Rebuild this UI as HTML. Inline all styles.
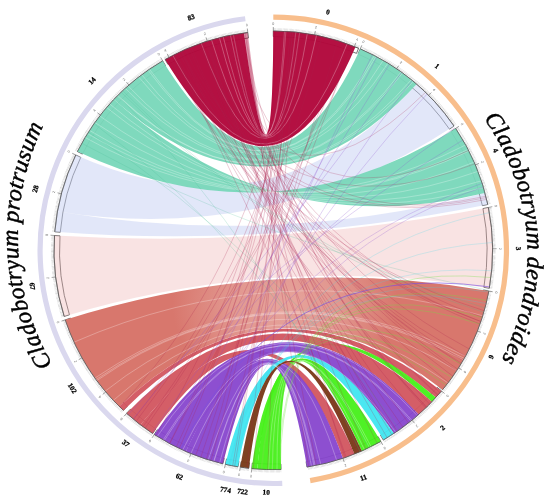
<!DOCTYPE html>
<html><head><meta charset="utf-8"><style>html,body{margin:0;padding:0;background:#fff;}svg{display:block;}</style></head>
<body>
<svg width="550" height="503" viewBox="0 0 550 503">
<rect width="550" height="503" fill="#fff"/>
<path d="M 273.30 17.10 A 233.20 233.20 0 0 1 310.18 480.56" fill="none" stroke="#f8be8c" stroke-width="5.2"/>
<path d="M 282.25 483.33 A 233.20 233.20 0 0 1 245.28 18.79" fill="none" stroke="#dad8ee" stroke-width="5.2"/>
<path d="M 273.30 36.50 A 213.80 213.80 0 0 1 356.49 53.35 L 358.63 48.28 A 219.30 219.30 0 0 0 273.30 31.00 Z" fill="none" stroke="#4a4a4a" stroke-width="0.8"/>
<path d="M 358.04 54.01 A 213.80 213.80 0 0 1 449.46 129.14 L 453.99 126.02 A 219.30 219.30 0 0 0 360.22 48.96 Z" fill="none" stroke="#4a4a4a" stroke-width="0.8"/>
<path d="M 451.07 131.52 A 213.80 213.80 0 0 1 482.38 205.63 L 487.76 204.48 A 219.30 219.30 0 0 0 455.64 128.46 Z" fill="none" stroke="#4a4a4a" stroke-width="0.8"/>
<path d="M 482.98 208.55 A 213.80 213.80 0 0 1 483.87 287.32 L 489.29 288.27 A 219.30 219.30 0 0 0 488.38 207.48 Z" fill="none" stroke="#4a4a4a" stroke-width="0.8"/>
<path d="M 483.38 290.00 A 213.80 213.80 0 0 1 438.39 386.15 L 442.64 389.64 A 219.30 219.30 0 0 0 488.79 291.02 Z" fill="none" stroke="#4a4a4a" stroke-width="0.8"/>
<path d="M 437.32 387.44 A 213.80 213.80 0 0 1 380.52 435.27 L 383.28 440.03 A 219.30 219.30 0 0 0 441.54 390.97 Z" fill="none" stroke="#4a4a4a" stroke-width="0.8"/>
<path d="M 378.13 436.64 A 213.80 213.80 0 0 1 306.08 461.57 L 306.93 467.01 A 219.30 219.30 0 0 0 380.82 441.43 Z" fill="none" stroke="#4a4a4a" stroke-width="0.8"/>
<path d="M 280.87 463.97 A 213.80 213.80 0 0 1 252.29 463.07 L 251.75 468.54 A 219.30 219.30 0 0 0 281.07 469.46 Z" fill="none" stroke="#4a4a4a" stroke-width="0.8"/>
<path d="M 249.51 462.77 A 213.80 213.80 0 0 1 241.11 461.66 L 240.28 467.10 A 219.30 219.30 0 0 0 248.89 468.24 Z" fill="none" stroke="#4a4a4a" stroke-width="0.8"/>
<path d="M 238.90 461.31 A 213.80 213.80 0 0 1 226.55 458.93 L 225.35 464.29 A 219.30 219.30 0 0 0 238.01 466.74 Z" fill="none" stroke="#4a4a4a" stroke-width="0.8"/>
<path d="M 224.19 458.38 A 213.80 213.80 0 0 1 157.23 429.85 L 154.25 434.47 A 219.30 219.30 0 0 0 222.92 463.74 Z" fill="none" stroke="#4a4a4a" stroke-width="0.8"/>
<path d="M 155.76 428.89 A 213.80 213.80 0 0 1 130.30 409.23 L 126.62 413.32 A 219.30 219.30 0 0 0 152.74 433.49 Z" fill="none" stroke="#4a4a4a" stroke-width="0.8"/>
<path d="M 127.19 406.38 A 213.80 213.80 0 0 1 70.54 318.10 L 65.32 319.85 A 219.30 219.30 0 0 0 123.43 410.40 Z" fill="none" stroke="#4a4a4a" stroke-width="0.8"/>
<path d="M 69.45 314.77 A 213.80 213.80 0 0 1 59.99 235.87 L 54.50 235.50 A 219.30 219.30 0 0 0 64.21 316.43 Z" fill="none" stroke="#4a4a4a" stroke-width="0.8"/>
<path d="M 60.27 232.22 A 213.80 213.80 0 0 1 80.75 157.38 L 75.79 154.99 A 219.30 219.30 0 0 0 54.79 231.76 Z" fill="none" stroke="#4a4a4a" stroke-width="0.8"/>
<path d="M 82.38 154.07 A 213.80 213.80 0 0 1 165.50 65.67 L 162.72 60.92 A 219.30 219.30 0 0 0 77.47 151.59 Z" fill="none" stroke="#4a4a4a" stroke-width="0.8"/>
<path d="M 167.86 64.31 A 213.80 213.80 0 0 1 248.43 37.95 L 247.79 32.49 A 219.30 219.30 0 0 0 165.14 59.53 Z" fill="none" stroke="#4a4a4a" stroke-width="0.8"/>
<defs><radialGradient id="g102" gradientUnits="userSpaceOnUse" cx="285" cy="305" r="150" gradientTransform="translate(285 305) scale(1 0.8) translate(-285 -305)"><stop offset="0" stop-color="#e6a49c"/><stop offset="0.35" stop-color="#e29890"/><stop offset="0.75" stop-color="#d8776d"/><stop offset="1" stop-color="#d8776d"/></radialGradient></defs>
<path d="M 54.79 231.76 A 219.30 219.30 0 0 1 57.47 211.47 Q 273.18 247.42 484.98 192.99 A 219.30 219.30 0 0 1 487.76 204.48 Q 273.18 248.37 54.79 231.76 Z" fill="#c6cff4" fill-opacity="0.5"/>
<path d="M 57.47 211.47 A 219.30 219.30 0 0 1 75.79 154.99 Q 271.67 242.46 416.54 84.24 A 219.30 219.30 0 0 1 453.99 126.02 Q 272.25 245.41 57.47 211.47 Z" fill="#c6cff4" fill-opacity="0.5"/>
<path d="M 64.21 316.43 A 219.30 219.30 0 0 1 54.50 235.50 Q 273.19 248.57 488.38 207.48 A 219.30 219.30 0 0 1 489.29 288.27 Q 273.51 253.42 64.21 316.43 Z" fill="#eeb2b2" fill-opacity="0.36"/>
<path d="M 119.32 406.45 A 219.30 219.30 0 0 1 65.32 319.85 Q 273.53 253.61 488.79 291.02 A 219.30 219.30 0 0 1 442.64 389.64 Q 273.76 259.16 119.32 406.45 Z" fill="url(#g102)" fill-opacity="1"/>
<path d="M 123.43 410.40 A 219.30 219.30 0 0 1 119.32 406.45 Q 273.73 259.20 441.54 390.97 A 219.30 219.30 0 0 1 435.76 397.61 Q 273.68 259.52 123.43 410.40 Z" fill="#d2555f" fill-opacity="0.95"/>
<path d="M 77.47 151.59 A 219.30 219.30 0 0 1 113.96 99.62 Q 274.87 244.06 484.98 192.99 A 219.30 219.30 0 0 0 455.64 128.46 Q 272.90 243.68 77.47 151.59 Z" fill="#78d7b9" fill-opacity="0.95"/>
<path d="M 113.96 99.62 A 219.30 219.30 0 0 1 162.72 60.92 Q 272.59 238.58 360.22 48.96 A 219.30 219.30 0 0 1 416.54 84.24 Q 272.82 240.80 113.96 99.62 Z" fill="#78d7b9" fill-opacity="0.95"/>
<path d="M 165.14 59.53 A 219.30 219.30 0 0 1 243.92 32.98 Q 272.42 237.20 273.30 31.00 A 219.30 219.30 0 0 1 355.45 46.97 Q 272.52 238.48 165.14 59.53 Z" fill="#b2083c" fill-opacity="0.97"/>
<path d="M 243.92 32.98 A 219.30 219.30 0 0 1 247.79 32.49 Q 272.53 237.19 273.30 31.00 A 219.30 219.30 0 0 1 275.60 31.01 Q 272.49 237.20 243.92 32.98 Z" fill="#b2083c" fill-opacity="0.35"/>
<path d="M 257.24 469.01 A 219.30 219.30 0 0 1 251.75 468.54 Q 277.53 261.27 435.76 397.61 A 219.30 219.30 0 0 1 431.85 401.81 Q 277.57 261.41 257.24 469.01 Z" fill="#46f019" fill-opacity="0.95"/>
<path d="M 281.07 469.46 A 219.30 219.30 0 0 1 257.24 469.01 Q 276.04 262.60 380.82 441.43 A 219.30 219.30 0 0 1 361.80 450.95 Q 276.19 262.89 281.07 469.46 Z" fill="#46f019" fill-opacity="0.95"/>
<path d="M 140.41 424.75 A 219.30 219.30 0 0 1 126.62 413.32 Q 273.66 259.74 431.85 401.81 A 219.30 219.30 0 0 1 418.61 414.55 Q 273.67 260.46 140.41 424.75 Z" fill="#d2555f" fill-opacity="0.95"/>
<path d="M 152.74 433.49 A 219.30 219.30 0 0 1 140.41 424.75 Q 271.75 261.65 354.39 454.06 A 219.30 219.30 0 0 1 342.88 458.27 Q 271.77 262.03 152.74 433.49 Z" fill="#d2555f" fill-opacity="0.95"/>
<path d="M 185.85 451.41 A 219.30 219.30 0 0 1 154.25 434.47 Q 274.09 260.75 418.61 414.55 A 219.30 219.30 0 0 1 394.02 433.38 Q 274.30 261.83 185.85 451.41 Z" fill="#8746cd" fill-opacity="0.95"/>
<path d="M 222.92 463.74 A 219.30 219.30 0 0 1 185.85 451.41 Q 272.76 262.57 342.88 458.27 A 219.30 219.30 0 0 1 306.93 467.01 Q 272.80 263.20 222.92 463.74 Z" fill="#8746cd" fill-opacity="0.95"/>
<path d="M 238.01 466.74 A 219.30 219.30 0 0 1 225.35 464.29 Q 275.48 262.21 394.02 433.38 A 219.30 219.30 0 0 1 383.61 439.84 Q 275.55 262.48 238.01 466.74 Z" fill="#40e6f0" fill-opacity="0.95"/>
<path d="M 248.89 468.24 A 219.30 219.30 0 0 1 240.28 467.10 Q 274.96 262.82 361.80 450.95 A 219.30 219.30 0 0 1 354.39 454.06 Q 275.00 262.95 248.89 468.24 Z" fill="#7a3c1a" fill-opacity="0.97"/>
<path d="M 211.50 39.89 Q 272.47 237.49 307.31 33.65" fill="none" stroke="#fff" stroke-width="0.5" stroke-opacity="0.55"/>
<path d="M 223.20 36.80 Q 272.47 237.35 295.84 32.16" fill="none" stroke="#fff" stroke-width="0.5" stroke-opacity="0.55"/>
<path d="M 219.42 37.72 Q 272.47 237.39 299.66 32.59" fill="none" stroke="#fff" stroke-width="0.5" stroke-opacity="0.55"/>
<path d="M 172.82 55.37 Q 272.50 238.26 347.14 43.81" fill="none" stroke="#fff" stroke-width="0.5" stroke-opacity="0.55"/>
<path d="M 233.38 34.66 Q 272.44 237.26 284.49 31.29" fill="none" stroke="#fff" stroke-width="0.5" stroke-opacity="0.55"/>
<path d="M 230.45 35.23 Q 272.39 237.28 285.85 31.36" fill="none" stroke="#fff" stroke-width="0.5" stroke-opacity="0.55"/>
<path d="M 201.21 43.19 Q 272.43 237.64 316.53 35.30" fill="none" stroke="#fff" stroke-width="0.5" stroke-opacity="0.55"/>
<path d="M 138.77 77.11 Q 272.70 239.49 387.83 63.28" fill="none" stroke="#fff" stroke-width="0.5" stroke-opacity="0.55"/>
<path d="M 117.92 95.54 Q 272.78 240.54 411.21 79.79" fill="none" stroke="#fff" stroke-width="0.5" stroke-opacity="0.55"/>
<path d="M 128.09 85.96 Q 272.78 240.02 401.04 72.05" fill="none" stroke="#fff" stroke-width="0.5" stroke-opacity="0.55"/>
<path d="M 148.15 70.22 Q 272.62 239.08 375.92 56.49" fill="none" stroke="#fff" stroke-width="0.5" stroke-opacity="0.55"/>
<path d="M 149.51 69.28 Q 272.62 239.03 374.31 55.65" fill="none" stroke="#fff" stroke-width="0.5" stroke-opacity="0.55"/>
<path d="M 141.84 74.77 Q 272.65 239.34 383.10 60.47" fill="none" stroke="#fff" stroke-width="0.5" stroke-opacity="0.55"/>
<path d="M 117.50 95.96 Q 272.82 240.60 413.25 81.46" fill="none" stroke="#fff" stroke-width="0.5" stroke-opacity="0.55"/>
<path d="M 125.36 88.42 Q 272.74 240.13 402.48 73.09" fill="none" stroke="#fff" stroke-width="0.5" stroke-opacity="0.55"/>
<path d="M 109.87 104.07 Q 274.70 244.03 483.44 187.59" fill="none" stroke="#fff" stroke-width="0.5" stroke-opacity="0.55"/>
<path d="M 87.58 133.67 Q 273.57 243.78 468.05 149.47" fill="none" stroke="#fff" stroke-width="0.5" stroke-opacity="0.55"/>
<path d="M 95.04 122.57 Q 273.98 243.82 474.11 162.17" fill="none" stroke="#fff" stroke-width="0.5" stroke-opacity="0.55"/>
<path d="M 85.22 137.53 Q 273.43 243.76 465.64 144.95" fill="none" stroke="#fff" stroke-width="0.5" stroke-opacity="0.55"/>
<path d="M 99.88 116.07 Q 274.24 243.90 477.90 171.36" fill="none" stroke="#fff" stroke-width="0.5" stroke-opacity="0.55"/>
<path d="M 106.75 107.64 Q 274.54 243.94 481.32 180.86" fill="none" stroke="#fff" stroke-width="0.5" stroke-opacity="0.55"/>
<path d="M 89.66 130.43 Q 273.66 243.73 468.90 151.13" fill="none" stroke="#fff" stroke-width="0.5" stroke-opacity="0.55"/>
<path d="M 105.19 391.13 Q 273.76 258.14 456.63 370.65" fill="none" stroke="#fff" stroke-width="0.5" stroke-opacity="0.55"/>
<path d="M 96.87 380.55 Q 273.71 257.49 463.31 359.80" fill="none" stroke="#fff" stroke-width="0.5" stroke-opacity="0.55"/>
<path d="M 113.36 400.34 Q 273.74 258.78 447.95 382.92" fill="none" stroke="#fff" stroke-width="0.5" stroke-opacity="0.55"/>
<path d="M 95.01 377.99 Q 273.71 257.30 465.40 356.08" fill="none" stroke="#fff" stroke-width="0.5" stroke-opacity="0.55"/>
<path d="M 74.14 342.10 Q 273.60 255.02 482.60 315.76" fill="none" stroke="#fff" stroke-width="0.5" stroke-opacity="0.55"/>
<path d="M 96.13 379.54 Q 273.71 257.42 464.15 358.32" fill="none" stroke="#fff" stroke-width="0.5" stroke-opacity="0.55"/>
<path d="M 164.30 440.60 Q 274.19 261.11 411.90 420.25" fill="none" stroke="#fff" stroke-width="0.5" stroke-opacity="0.55"/>
<path d="M 157.30 436.41 Q 274.14 260.84 417.36 415.65" fill="none" stroke="#fff" stroke-width="0.5" stroke-opacity="0.55"/>
<path d="M 163.13 439.92 Q 274.12 261.11 410.93 421.03" fill="none" stroke="#fff" stroke-width="0.5" stroke-opacity="0.55"/>
<path d="M 182.73 450.02 Q 274.26 261.75 395.74 432.23" fill="none" stroke="#fff" stroke-width="0.5" stroke-opacity="0.55"/>
<path d="M 208.30 459.75 Q 272.77 263.01 320.80 464.39" fill="none" stroke="#fff" stroke-width="0.5" stroke-opacity="0.55"/>
<path d="M 219.59 462.92 Q 272.83 263.16 311.50 466.25" fill="none" stroke="#fff" stroke-width="0.5" stroke-opacity="0.55"/>
<path d="M 214.14 461.47 Q 272.75 263.10 314.02 465.79" fill="none" stroke="#fff" stroke-width="0.5" stroke-opacity="0.55"/>
<path d="M 213.65 461.33 Q 272.76 263.09 315.10 465.58" fill="none" stroke="#fff" stroke-width="0.5" stroke-opacity="0.55"/>
<path d="M 190.87 453.52 Q 272.73 262.69 336.68 460.24" fill="none" stroke="#fff" stroke-width="0.5" stroke-opacity="0.55"/>
<path d="M 272.26 469.60 Q 276.15 262.79 369.33 447.46" fill="none" stroke="#fff" stroke-width="0.5" stroke-opacity="0.55"/>
<path d="M 268.65 469.55 Q 276.09 262.77 371.07 446.60" fill="none" stroke="#fff" stroke-width="0.5" stroke-opacity="0.55"/>
<path d="M 277.00 469.57 Q 276.14 262.86 364.42 449.77" fill="none" stroke="#fff" stroke-width="0.5" stroke-opacity="0.55"/>
<path d="M 201.73 43.01 Q 275.21 249.26 408.48 422.98" fill="none" stroke="#a8204a" stroke-width="0.5" stroke-opacity="0.45"/>
<path d="M 240.25 33.50 Q 276.90 248.51 426.37 407.34" fill="none" stroke="#a8204a" stroke-width="0.5" stroke-opacity="0.45"/>
<path d="M 206.16 41.53 Q 275.17 249.34 402.92 427.19" fill="none" stroke="#a8204a" stroke-width="0.5" stroke-opacity="0.45"/>
<path d="M 180.84 51.45 Q 274.86 249.28 417.79 415.27" fill="none" stroke="#a8204a" stroke-width="0.5" stroke-opacity="0.45"/>
<path d="M 216.01 38.61 Q 274.12 250.02 357.80 452.67" fill="none" stroke="#a8204a" stroke-width="0.5" stroke-opacity="0.45"/>
<path d="M 173.98 54.78 Q 275.71 248.21 452.89 376.16" fill="none" stroke="#a8204a" stroke-width="0.5" stroke-opacity="0.45"/>
<path d="M 173.72 54.91 Q 272.73 250.56 353.90 454.25" fill="none" stroke="#a8204a" stroke-width="0.5" stroke-opacity="0.45"/>
<path d="M 221.20 37.28 Q 278.00 245.92 482.14 317.21" fill="none" stroke="#a8204a" stroke-width="0.5" stroke-opacity="0.45"/>
<path d="M 245.09 32.82 Q 273.75 250.23 316.37 465.33" fill="none" stroke="#a8204a" stroke-width="0.5" stroke-opacity="0.45"/>
<path d="M 217.97 38.09 Q 275.35 249.36 397.11 431.31" fill="none" stroke="#a8204a" stroke-width="0.5" stroke-opacity="0.45"/>
<path d="M 178.77 52.42 Q 276.79 246.18 484.12 310.71" fill="none" stroke="#a8204a" stroke-width="0.5" stroke-opacity="0.45"/>
<path d="M 207.81 41.01 Q 277.56 246.16 480.74 321.45" fill="none" stroke="#a8204a" stroke-width="0.5" stroke-opacity="0.45"/>
<path d="M 181.26 51.25 Q 276.18 247.71 461.34 363.14" fill="none" stroke="#a8204a" stroke-width="0.5" stroke-opacity="0.45"/>
<path d="M 169.20 57.28 Q 274.78 249.21 426.68 407.04" fill="none" stroke="#a8204a" stroke-width="0.5" stroke-opacity="0.45"/>
<path d="M 200.79 43.33 Q 273.31 250.30 346.14 457.15" fill="none" stroke="#a8204a" stroke-width="0.5" stroke-opacity="0.45"/>
<path d="M 207.07 41.24 Q 274.87 249.56 391.91 434.76" fill="none" stroke="#a8204a" stroke-width="0.5" stroke-opacity="0.45"/>
<path d="M 205.51 41.74 Q 274.68 249.67 387.16 437.73" fill="none" stroke="#a8204a" stroke-width="0.5" stroke-opacity="0.45"/>
<path d="M 202.12 42.87 Q 276.66 247.69 456.47 370.89" fill="none" stroke="#a8204a" stroke-width="0.5" stroke-opacity="0.45"/>
<path d="M 246.38 32.66 Q 273.55 250.26 308.68 466.73" fill="none" stroke="#a8204a" stroke-width="0.5" stroke-opacity="0.45"/>
<path d="M 233.28 34.68 Q 275.22 249.62 377.22 443.42" fill="none" stroke="#a8204a" stroke-width="0.5" stroke-opacity="0.45"/>
<path d="M 190.92 47.06 Q 276.52 247.51 462.92 360.47" fill="none" stroke="#a8204a" stroke-width="0.5" stroke-opacity="0.45"/>
<path d="M 188.88 47.90 Q 276.96 246.44 479.85 323.99" fill="none" stroke="#a8204a" stroke-width="0.5" stroke-opacity="0.45"/>
<path d="M 227.17 35.91 Q 276.85 248.22 437.73 395.40" fill="none" stroke="#a8204a" stroke-width="0.5" stroke-opacity="0.45"/>
<path d="M 233.81 34.59 Q 277.12 248.10 440.03 392.75" fill="none" stroke="#a8204a" stroke-width="0.5" stroke-opacity="0.45"/>
<path d="M 243.07 33.09 Q 274.54 250.00 344.98 457.56" fill="none" stroke="#a8204a" stroke-width="0.5" stroke-opacity="0.45"/>
<path d="M 167.02 58.47 Q 275.87 247.72 465.40 356.09" fill="none" stroke="#a8204a" stroke-width="0.5" stroke-opacity="0.45"/>
<path d="M 239.09 33.68 Q 276.84 248.54 425.59 408.10" fill="none" stroke="#a8204a" stroke-width="0.5" stroke-opacity="0.45"/>
<path d="M 244.93 32.84 Q 277.40 248.11 438.23 394.84" fill="none" stroke="#a8204a" stroke-width="0.5" stroke-opacity="0.45"/>
<path d="M 172.40 55.59 Q 273.90 249.95 394.20 433.26" fill="none" stroke="#a8204a" stroke-width="0.5" stroke-opacity="0.45"/>
<path d="M 228.18 35.69 Q 277.48 247.43 457.63 369.11" fill="none" stroke="#a8204a" stroke-width="0.5" stroke-opacity="0.45"/>
<path d="M 173.46 55.05 Q 275.56 248.40 448.55 382.13" fill="none" stroke="#a8204a" stroke-width="0.5" stroke-opacity="0.45"/>
<path d="M 243.57 33.02 Q 275.19 249.75 365.87 449.10" fill="none" stroke="#a8204a" stroke-width="0.5" stroke-opacity="0.45"/>
<path d="M 175.78 53.88 Q 276.00 247.82 460.76 364.10" fill="none" stroke="#a8204a" stroke-width="0.5" stroke-opacity="0.45"/>
<path d="M 174.50 54.52 Q 276.56 246.56 480.71 321.53" fill="none" stroke="#a8204a" stroke-width="0.5" stroke-opacity="0.45"/>
<path d="M 229.71 35.38 Q 277.87 246.81 469.17 348.93" fill="none" stroke="#a8204a" stroke-width="0.5" stroke-opacity="0.45"/>
<path d="M 210.30 40.24 Q 276.10 248.61 429.64 404.09" fill="none" stroke="#a8204a" stroke-width="0.5" stroke-opacity="0.45"/>
<path d="M 290.89 31.71 Q 270.30 249.30 155.80 435.46" fill="none" stroke="#a8204a" stroke-width="0.5" stroke-opacity="0.45"/>
<path d="M 285.98 31.37 Q 270.57 249.53 169.49 443.47" fill="none" stroke="#a8204a" stroke-width="0.5" stroke-opacity="0.45"/>
<path d="M 284.80 31.30 Q 271.64 249.99 206.35 459.13" fill="none" stroke="#a8204a" stroke-width="0.5" stroke-opacity="0.45"/>
<path d="M 292.71 31.86 Q 272.66 250.21 232.66 465.80" fill="none" stroke="#a8204a" stroke-width="0.5" stroke-opacity="0.45"/>
<path d="M 353.23 46.08 Q 271.85 249.51 145.14 428.26" fill="none" stroke="#a8204a" stroke-width="0.5" stroke-opacity="0.45"/>
<path d="M 300.17 32.65 Q 269.91 248.84 133.55 419.30" fill="none" stroke="#a8204a" stroke-width="0.5" stroke-opacity="0.45"/>
<path d="M 292.53 31.84 Q 272.00 250.05 210.90 460.54" fill="none" stroke="#a8204a" stroke-width="0.5" stroke-opacity="0.45"/>
<path d="M 344.22 42.79 Q 272.32 249.87 169.78 443.63" fill="none" stroke="#a8204a" stroke-width="0.5" stroke-opacity="0.45"/>
<path d="M 283.47 31.24 Q 268.99 248.42 119.60 406.72" fill="none" stroke="#a8204a" stroke-width="0.5" stroke-opacity="0.45"/>
<path d="M 292.74 31.86 Q 272.72 250.22 234.69 466.18" fill="none" stroke="#a8204a" stroke-width="0.5" stroke-opacity="0.45"/>
<path d="M 337.83 40.71 Q 273.70 250.41 222.25 463.58" fill="none" stroke="#a8204a" stroke-width="0.5" stroke-opacity="0.45"/>
<path d="M 299.54 32.57 Q 273.92 250.35 267.75 469.53" fill="none" stroke="#a8204a" stroke-width="0.5" stroke-opacity="0.45"/>
<path d="M 282.63 31.20 Q 270.76 249.67 179.27 448.42" fill="none" stroke="#a8204a" stroke-width="0.5" stroke-opacity="0.45"/>
<path d="M 295.18 32.09 Q 271.05 249.65 176.27 446.97" fill="none" stroke="#a8204a" stroke-width="0.5" stroke-opacity="0.45"/>
<path d="M 305.68 33.40 Q 272.10 250.00 200.82 457.27" fill="none" stroke="#a8204a" stroke-width="0.5" stroke-opacity="0.45"/>
<path d="M 352.32 45.73 Q 273.34 250.32 195.66 455.40" fill="none" stroke="#a8204a" stroke-width="0.5" stroke-opacity="0.45"/>
<path d="M 322.08 36.50 Q 270.65 249.02 136.10 421.38" fill="none" stroke="#a8204a" stroke-width="0.5" stroke-opacity="0.45"/>
<path d="M 290.24 31.66 Q 273.21 250.29 253.26 468.68" fill="none" stroke="#a8204a" stroke-width="0.5" stroke-opacity="0.45"/>
<path d="M 348.42 44.27 Q 271.65 249.41 143.05 426.73" fill="none" stroke="#a8204a" stroke-width="0.5" stroke-opacity="0.45"/>
<path d="M 295.71 32.15 Q 273.18 250.29 246.88 468.00" fill="none" stroke="#a8204a" stroke-width="0.5" stroke-opacity="0.45"/>
<path d="M 224.97 36.39 Q 278.23 242.26 485.84 196.26" fill="none" stroke="#a8204a" stroke-width="0.5" stroke-opacity="0.45"/>
<path d="M 181.75 51.02 Q 276.94 242.74 486.18 197.64" fill="none" stroke="#a8204a" stroke-width="0.5" stroke-opacity="0.45"/>
<path d="M 236.76 34.07 Q 278.06 240.82 468.58 150.52" fill="none" stroke="#a8204a" stroke-width="0.5" stroke-opacity="0.45"/>
<path d="M 199.27 43.87 Q 275.64 239.37 425.49 92.41" fill="none" stroke="#a8204a" stroke-width="0.5" stroke-opacity="0.45"/>
<path d="M 169.84 56.94 Q 276.60 242.97 486.61 199.41" fill="none" stroke="#a8204a" stroke-width="0.5" stroke-opacity="0.45"/>
<path d="M 184.96 49.58 Q 276.70 241.68 474.83 163.82" fill="none" stroke="#a8204a" stroke-width="0.5" stroke-opacity="0.45"/>
<path d="M 94.15 123.82 Q 270.80 252.43 368.97 447.63" fill="none" stroke="#40b890" stroke-width="0.5" stroke-opacity="0.4"/>
<path d="M 121.20 92.32 Q 275.05 247.42 483.67 312.25" fill="none" stroke="#40b890" stroke-width="0.5" stroke-opacity="0.4"/>
<path d="M 88.58 132.10 Q 271.55 252.13 399.61 429.57" fill="none" stroke="#40b890" stroke-width="0.5" stroke-opacity="0.4"/>
<path d="M 81.87 143.31 Q 274.02 248.30 488.89 290.47" fill="none" stroke="#40b890" stroke-width="0.5" stroke-opacity="0.4"/>
<path d="M 117.96 95.50 Q 271.24 251.70 359.99 451.74" fill="none" stroke="#40b890" stroke-width="0.5" stroke-opacity="0.4"/>
<path d="M 122.78 90.81 Q 275.13 247.24 484.91 307.87" fill="none" stroke="#40b890" stroke-width="0.5" stroke-opacity="0.4"/>
<path d="M 133.02 418.86 Q 272.94 250.02 401.61 72.46" fill="none" stroke="#8a4fd0" stroke-width="0.5" stroke-opacity="0.5"/>
<path d="M 214.89 461.68 Q 275.71 251.55 412.10 80.52" fill="none" stroke="#8a4fd0" stroke-width="0.5" stroke-opacity="0.5"/>
<path d="M 173.62 445.64 Q 273.42 250.36 376.94 57.04" fill="none" stroke="#8a4fd0" stroke-width="0.5" stroke-opacity="0.5"/>
<path d="M 199.16 456.69 Q 275.69 251.80 427.13 94.01" fill="none" stroke="#8a4fd0" stroke-width="0.5" stroke-opacity="0.5"/>
<path d="M 162.17 439.36 Q 273.45 250.39 389.43 64.27" fill="none" stroke="#8a4fd0" stroke-width="0.5" stroke-opacity="0.5"/>
<path d="M 181.39 449.41 Q 276.81 254.26 482.13 183.33" fill="none" stroke="#8a4fd0" stroke-width="0.5" stroke-opacity="0.5"/>
<path d="M 128.06 414.61 Q 274.63 251.92 462.87 140.05" fill="none" stroke="#8a4fd0" stroke-width="0.5" stroke-opacity="0.5"/>
<path d="M 151.74 432.83 Q 275.11 252.09 455.06 127.59" fill="none" stroke="#8a4fd0" stroke-width="0.5" stroke-opacity="0.5"/>
<path d="M 202.67 457.91 Q 274.15 250.66 372.38 54.66" fill="none" stroke="#8a4fd0" stroke-width="0.5" stroke-opacity="0.5"/>
<path d="M 214.76 461.64 Q 277.84 254.74 483.29 187.07" fill="none" stroke="#8a4fd0" stroke-width="0.5" stroke-opacity="0.5"/>
<path d="M 262.18 469.32 Q 278.32 260.69 451.91 377.55" fill="none" stroke="#70e040" stroke-width="0.6" stroke-opacity="0.55"/>
<path d="M 280.38 469.49 Q 279.92 258.38 486.75 300.60" fill="none" stroke="#70e040" stroke-width="0.6" stroke-opacity="0.55"/>
<path d="M 268.04 469.54 Q 279.34 259.09 479.80 324.13" fill="none" stroke="#70e040" stroke-width="0.6" stroke-opacity="0.55"/>
<path d="M 272.41 469.60 Q 278.46 260.93 446.21 385.18" fill="none" stroke="#70e040" stroke-width="0.6" stroke-opacity="0.55"/>
<path d="M 278.94 469.53 Q 280.00 257.69 490.90 277.54" fill="none" stroke="#70e040" stroke-width="0.6" stroke-opacity="0.55"/>
<path d="M 261.21 469.27 Q 278.56 260.28 460.85 363.95" fill="none" stroke="#70e040" stroke-width="0.6" stroke-opacity="0.55"/>
<path d="M 261.21 469.27 Q 279.20 258.89 482.04 317.52" fill="none" stroke="#70e040" stroke-width="0.6" stroke-opacity="0.55"/>
<path d="M 230.03 465.29 Q 278.38 258.35 486.04 303.54" fill="none" stroke="#40d8e8" stroke-width="0.5" stroke-opacity="0.45"/>
<path d="M 235.01 466.23 Q 278.73 256.54 492.46 242.49" fill="none" stroke="#40d8e8" stroke-width="0.5" stroke-opacity="0.45"/>
<path d="M 228.82 465.04 Q 278.42 257.99 488.59 292.06" fill="none" stroke="#40d8e8" stroke-width="0.5" stroke-opacity="0.45"/>
<path d="M 234.27 466.10 Q 278.68 257.39 491.65 270.70" fill="none" stroke="#40d8e8" stroke-width="0.5" stroke-opacity="0.45"/>
<path d="M 229.24 465.13 Q 278.46 255.61 489.33 212.58" fill="none" stroke="#40d8e8" stroke-width="0.5" stroke-opacity="0.45"/>
<path d="M 489.53 286.87 Q 277.01 257.36 180.62 449.05" fill="none" stroke="#7a50e0" stroke-width="0.8" stroke-opacity="0.8"/>
<path d="M 273.30 31.00 A 219.30 219.30 0 0 1 358.63 48.28" fill="none" stroke="#555" stroke-width="0.6"/>
<path d="M 273.30 29.40 A 220.90 220.90 0 0 1 359.26 46.81" fill="none" stroke="#888" stroke-width="2.6" stroke-dasharray="0.35 0.85" stroke-opacity="0.55"/>
<path d="M 360.22 48.96 A 219.30 219.30 0 0 1 453.99 126.02" fill="none" stroke="#555" stroke-width="0.6"/>
<path d="M 360.85 47.49 A 220.90 220.90 0 0 1 455.31 125.12" fill="none" stroke="#888" stroke-width="2.6" stroke-dasharray="0.35 0.85" stroke-opacity="0.55"/>
<path d="M 455.64 128.46 A 219.30 219.30 0 0 1 487.76 204.48" fill="none" stroke="#555" stroke-width="0.6"/>
<path d="M 456.97 127.57 A 220.90 220.90 0 0 1 489.32 204.15" fill="none" stroke="#888" stroke-width="2.6" stroke-dasharray="0.35 0.85" stroke-opacity="0.55"/>
<path d="M 488.38 207.48 A 219.30 219.30 0 0 1 489.29 288.27" fill="none" stroke="#555" stroke-width="0.6"/>
<path d="M 489.95 207.17 A 220.90 220.90 0 0 1 490.86 288.54" fill="none" stroke="#888" stroke-width="2.6" stroke-dasharray="0.35 0.85" stroke-opacity="0.55"/>
<path d="M 488.79 291.02 A 219.30 219.30 0 0 1 442.64 389.64" fill="none" stroke="#555" stroke-width="0.6"/>
<path d="M 490.36 291.31 A 220.90 220.90 0 0 1 443.87 390.66" fill="none" stroke="#888" stroke-width="2.6" stroke-dasharray="0.35 0.85" stroke-opacity="0.55"/>
<path d="M 441.54 390.97 A 219.30 219.30 0 0 1 383.28 440.03" fill="none" stroke="#555" stroke-width="0.6"/>
<path d="M 442.77 392.00 A 220.90 220.90 0 0 1 384.08 441.41" fill="none" stroke="#888" stroke-width="2.6" stroke-dasharray="0.35 0.85" stroke-opacity="0.55"/>
<path d="M 380.82 441.43 A 219.30 219.30 0 0 1 306.93 467.01" fill="none" stroke="#555" stroke-width="0.6"/>
<path d="M 381.61 442.83 A 220.90 220.90 0 0 1 307.17 468.59" fill="none" stroke="#888" stroke-width="2.6" stroke-dasharray="0.35 0.85" stroke-opacity="0.55"/>
<path d="M 281.07 469.46 A 219.30 219.30 0 0 1 251.75 468.54" fill="none" stroke="#555" stroke-width="0.6"/>
<path d="M 281.12 471.06 A 220.90 220.90 0 0 1 251.59 470.13" fill="none" stroke="#888" stroke-width="2.6" stroke-dasharray="0.35 0.85" stroke-opacity="0.55"/>
<path d="M 248.89 468.24 A 219.30 219.30 0 0 1 240.28 467.10" fill="none" stroke="#555" stroke-width="0.6"/>
<path d="M 248.71 469.83 A 220.90 220.90 0 0 1 240.04 468.68" fill="none" stroke="#888" stroke-width="2.6" stroke-dasharray="0.35 0.85" stroke-opacity="0.55"/>
<path d="M 238.01 466.74 A 219.30 219.30 0 0 1 225.35 464.29" fill="none" stroke="#555" stroke-width="0.6"/>
<path d="M 237.75 468.32 A 220.90 220.90 0 0 1 225.00 465.85" fill="none" stroke="#888" stroke-width="2.6" stroke-dasharray="0.35 0.85" stroke-opacity="0.55"/>
<path d="M 222.92 463.74 A 219.30 219.30 0 0 1 154.25 434.47" fill="none" stroke="#555" stroke-width="0.6"/>
<path d="M 222.56 465.29 A 220.90 220.90 0 0 1 153.38 435.81" fill="none" stroke="#888" stroke-width="2.6" stroke-dasharray="0.35 0.85" stroke-opacity="0.55"/>
<path d="M 152.74 433.49 A 219.30 219.30 0 0 1 126.62 413.32" fill="none" stroke="#555" stroke-width="0.6"/>
<path d="M 151.86 434.82 A 220.90 220.90 0 0 1 125.55 414.51" fill="none" stroke="#888" stroke-width="2.6" stroke-dasharray="0.35 0.85" stroke-opacity="0.55"/>
<path d="M 123.43 410.40 A 219.30 219.30 0 0 1 65.32 319.85" fill="none" stroke="#555" stroke-width="0.6"/>
<path d="M 122.34 411.57 A 220.90 220.90 0 0 1 63.80 320.36" fill="none" stroke="#888" stroke-width="2.6" stroke-dasharray="0.35 0.85" stroke-opacity="0.55"/>
<path d="M 64.21 316.43 A 219.30 219.30 0 0 1 54.50 235.50" fill="none" stroke="#555" stroke-width="0.6"/>
<path d="M 62.68 316.91 A 220.90 220.90 0 0 1 52.90 235.39" fill="none" stroke="#888" stroke-width="2.6" stroke-dasharray="0.35 0.85" stroke-opacity="0.55"/>
<path d="M 54.79 231.76 A 219.30 219.30 0 0 1 75.79 154.99" fill="none" stroke="#555" stroke-width="0.6"/>
<path d="M 53.19 231.62 A 220.90 220.90 0 0 1 74.35 154.30" fill="none" stroke="#888" stroke-width="2.6" stroke-dasharray="0.35 0.85" stroke-opacity="0.55"/>
<path d="M 77.47 151.59 A 219.30 219.30 0 0 1 162.72 60.92" fill="none" stroke="#555" stroke-width="0.6"/>
<path d="M 76.04 150.87 A 220.90 220.90 0 0 1 161.92 59.54" fill="none" stroke="#888" stroke-width="2.6" stroke-dasharray="0.35 0.85" stroke-opacity="0.55"/>
<path d="M 165.14 59.53 A 219.30 219.30 0 0 1 247.79 32.49" fill="none" stroke="#555" stroke-width="0.6"/>
<path d="M 164.36 58.13 A 220.90 220.90 0 0 1 247.60 30.90" fill="none" stroke="#888" stroke-width="2.6" stroke-dasharray="0.35 0.85" stroke-opacity="0.55"/>
<line x1="273.30" y1="31.00" x2="273.30" y2="27.00" stroke="#666" stroke-width="0.6"/>
<text x="273.30" y="24.50" transform="rotate(0.00 273.30 24.50)" text-anchor="middle" font-family="Liberation Sans, sans-serif" font-size="3.6" fill="#666">0</text>
<line x1="314.58" y1="34.92" x2="315.33" y2="30.99" stroke="#666" stroke-width="0.6"/>
<text x="315.80" y="28.54" transform="rotate(10.85 315.80 28.54)" text-anchor="middle" font-family="Liberation Sans, sans-serif" font-size="3.6" fill="#666">2</text>
<line x1="354.39" y1="46.54" x2="355.86" y2="42.82" stroke="#666" stroke-width="0.6"/>
<text x="356.79" y="40.50" transform="rotate(21.70 356.79 40.50)" text-anchor="middle" font-family="Liberation Sans, sans-serif" font-size="3.6" fill="#666">4</text>
<line x1="360.22" y1="48.96" x2="361.80" y2="45.29" stroke="#666" stroke-width="0.6"/>
<text x="362.80" y="42.99" transform="rotate(23.35 362.80 42.99)" text-anchor="middle" font-family="Liberation Sans, sans-serif" font-size="3.6" fill="#666">0</text>
<line x1="396.56" y1="68.92" x2="398.81" y2="65.61" stroke="#666" stroke-width="0.6"/>
<text x="400.22" y="63.55" transform="rotate(34.20 400.22 63.55)" text-anchor="middle" font-family="Liberation Sans, sans-serif" font-size="3.6" fill="#666">2</text>
<line x1="428.50" y1="95.37" x2="431.33" y2="92.54" stroke="#666" stroke-width="0.6"/>
<text x="433.10" y="90.77" transform="rotate(45.05 433.10 90.77)" text-anchor="middle" font-family="Liberation Sans, sans-serif" font-size="3.6" fill="#666">4</text>
<line x1="455.64" y1="128.46" x2="458.97" y2="126.24" stroke="#666" stroke-width="0.6"/>
<text x="461.05" y="124.85" transform="rotate(56.25 461.05 124.85)" text-anchor="middle" font-family="Liberation Sans, sans-serif" font-size="3.6" fill="#666">0</text>
<line x1="475.32" y1="164.97" x2="479.00" y2="163.41" stroke="#666" stroke-width="0.6"/>
<text x="481.30" y="162.44" transform="rotate(67.10 481.30 162.44)" text-anchor="middle" font-family="Liberation Sans, sans-serif" font-size="3.6" fill="#666">2</text>
<line x1="488.38" y1="207.48" x2="492.30" y2="206.70" stroke="#666" stroke-width="0.6"/>
<text x="494.75" y="206.21" transform="rotate(78.74 494.75 206.21)" text-anchor="middle" font-family="Liberation Sans, sans-serif" font-size="3.6" fill="#666">0</text>
<line x1="492.59" y1="248.73" x2="496.59" y2="248.70" stroke="#666" stroke-width="0.6"/>
<text x="499.09" y="248.68" transform="rotate(89.59 499.09 248.68)" text-anchor="middle" font-family="Liberation Sans, sans-serif" font-size="3.6" fill="#666">2</text>
<line x1="488.79" y1="291.02" x2="492.72" y2="291.76" stroke="#666" stroke-width="0.6"/>
<text x="495.17" y="292.22" transform="rotate(100.70 495.17 292.22)" text-anchor="middle" font-family="Liberation Sans, sans-serif" font-size="3.6" fill="#666">0</text>
<line x1="477.27" y1="330.85" x2="480.99" y2="332.32" stroke="#666" stroke-width="0.6"/>
<text x="483.32" y="333.24" transform="rotate(111.55 483.32 333.24)" text-anchor="middle" font-family="Liberation Sans, sans-serif" font-size="3.6" fill="#666">2</text>
<line x1="458.46" y1="367.81" x2="461.84" y2="369.95" stroke="#666" stroke-width="0.6"/>
<text x="463.95" y="371.29" transform="rotate(122.40 463.95 371.29)" text-anchor="middle" font-family="Liberation Sans, sans-serif" font-size="3.6" fill="#666">4</text>
<line x1="441.54" y1="390.97" x2="444.61" y2="393.54" stroke="#666" stroke-width="0.6"/>
<text x="446.53" y="395.14" transform="rotate(129.90 446.53 395.14)" text-anchor="middle" font-family="Liberation Sans, sans-serif" font-size="3.6" fill="#666">0</text>
<line x1="412.05" y1="420.12" x2="414.58" y2="423.22" stroke="#666" stroke-width="0.6"/>
<text x="416.16" y="425.16" transform="rotate(140.75 416.16 425.16)" text-anchor="middle" font-family="Liberation Sans, sans-serif" font-size="3.6" fill="#666">2</text>
<line x1="380.82" y1="441.43" x2="382.78" y2="444.92" stroke="#666" stroke-width="0.6"/>
<text x="384.01" y="447.10" transform="rotate(150.64 384.01 447.10)" text-anchor="middle" font-family="Liberation Sans, sans-serif" font-size="3.6" fill="#666">0</text>
<line x1="342.92" y1="458.26" x2="344.19" y2="462.05" stroke="#666" stroke-width="0.6"/>
<text x="344.98" y="464.42" transform="rotate(161.49 344.98 464.42)" text-anchor="middle" font-family="Liberation Sans, sans-serif" font-size="3.6" fill="#666">2</text>
<line x1="251.75" y1="468.54" x2="251.35" y2="472.52" stroke="#666" stroke-width="0.6"/>
<text x="251.11" y="475.01" transform="rotate(185.64 251.11 475.01)" text-anchor="middle" font-family="Liberation Sans, sans-serif" font-size="3.6" fill="#666">0</text>
<line x1="240.28" y1="467.10" x2="239.68" y2="471.05" stroke="#666" stroke-width="0.6"/>
<text x="239.30" y="473.53" transform="rotate(188.66 239.30 473.53)" text-anchor="middle" font-family="Liberation Sans, sans-serif" font-size="3.6" fill="#666">0</text>
<line x1="225.35" y1="464.29" x2="224.47" y2="468.20" stroke="#666" stroke-width="0.6"/>
<text x="223.93" y="470.64" transform="rotate(192.63 223.93 470.64)" text-anchor="middle" font-family="Liberation Sans, sans-serif" font-size="3.6" fill="#666">0</text>
<line x1="154.25" y1="434.47" x2="152.07" y2="437.83" stroke="#666" stroke-width="0.6"/>
<text x="150.72" y="439.93" transform="rotate(212.88 150.72 439.93)" text-anchor="middle" font-family="Liberation Sans, sans-serif" font-size="3.6" fill="#666">0</text>
<line x1="191.04" y1="453.59" x2="189.54" y2="457.30" stroke="#666" stroke-width="0.6"/>
<text x="188.60" y="459.61" transform="rotate(202.03 188.60 459.61)" text-anchor="middle" font-family="Liberation Sans, sans-serif" font-size="3.6" fill="#666">2</text>
<line x1="126.62" y1="413.32" x2="123.94" y2="416.30" stroke="#666" stroke-width="0.6"/>
<text x="122.27" y="418.15" transform="rotate(221.98 122.27 418.15)" text-anchor="middle" font-family="Liberation Sans, sans-serif" font-size="3.6" fill="#666">0</text>
<line x1="65.32" y1="319.85" x2="61.53" y2="321.12" stroke="#666" stroke-width="0.6"/>
<text x="59.16" y="321.91" transform="rotate(251.51 59.16 321.91)" text-anchor="middle" font-family="Liberation Sans, sans-serif" font-size="3.6" fill="#666">0</text>
<line x1="82.13" y1="357.76" x2="78.64" y2="359.72" stroke="#666" stroke-width="0.6"/>
<text x="76.46" y="360.94" transform="rotate(240.66 76.46 360.94)" text-anchor="middle" font-family="Liberation Sans, sans-serif" font-size="3.6" fill="#666">2</text>
<line x1="105.77" y1="391.82" x2="102.72" y2="394.40" stroke="#666" stroke-width="0.6"/>
<text x="100.81" y="396.01" transform="rotate(229.81 100.81 396.01)" text-anchor="middle" font-family="Liberation Sans, sans-serif" font-size="3.6" fill="#666">4</text>
<line x1="54.50" y1="235.50" x2="50.51" y2="235.23" stroke="#666" stroke-width="0.6"/>
<text x="48.01" y="235.06" transform="rotate(273.87 48.01 235.06)" text-anchor="middle" font-family="Liberation Sans, sans-serif" font-size="3.6" fill="#666">0</text>
<line x1="55.63" y1="276.95" x2="51.65" y2="277.44" stroke="#666" stroke-width="0.6"/>
<text x="49.17" y="277.74" transform="rotate(263.02 49.17 277.74)" text-anchor="middle" font-family="Liberation Sans, sans-serif" font-size="3.6" fill="#666">2</text>
<line x1="75.79" y1="154.99" x2="72.19" y2="153.25" stroke="#666" stroke-width="0.6"/>
<text x="69.94" y="152.17" transform="rotate(295.76 69.94 152.17)" text-anchor="middle" font-family="Liberation Sans, sans-serif" font-size="3.6" fill="#666">0</text>
<line x1="61.38" y1="193.87" x2="57.52" y2="192.84" stroke="#666" stroke-width="0.6"/>
<text x="55.10" y="192.20" transform="rotate(284.91 55.10 192.20)" text-anchor="middle" font-family="Liberation Sans, sans-serif" font-size="3.6" fill="#666">2</text>
<line x1="162.72" y1="60.92" x2="160.71" y2="57.46" stroke="#666" stroke-width="0.6"/>
<text x="159.45" y="55.31" transform="rotate(329.72 159.45 55.31)" text-anchor="middle" font-family="Liberation Sans, sans-serif" font-size="3.6" fill="#666">0</text>
<line x1="129.05" y1="85.12" x2="126.42" y2="82.11" stroke="#666" stroke-width="0.6"/>
<text x="124.78" y="80.22" transform="rotate(318.87 124.78 80.22)" text-anchor="middle" font-family="Liberation Sans, sans-serif" font-size="3.6" fill="#666">2</text>
<line x1="100.54" y1="115.23" x2="97.39" y2="112.76" stroke="#666" stroke-width="0.6"/>
<text x="95.42" y="111.22" transform="rotate(308.02 95.42 111.22)" text-anchor="middle" font-family="Liberation Sans, sans-serif" font-size="3.6" fill="#666">4</text>
<line x1="247.79" y1="32.49" x2="247.32" y2="28.52" stroke="#666" stroke-width="0.6"/>
<text x="247.03" y="26.03" transform="rotate(353.32 247.03 26.03)" text-anchor="middle" font-family="Liberation Sans, sans-serif" font-size="3.6" fill="#666">0</text>
<line x1="207.25" y1="41.18" x2="206.04" y2="37.37" stroke="#666" stroke-width="0.6"/>
<text x="205.29" y="34.99" transform="rotate(342.47 205.29 34.99)" text-anchor="middle" font-family="Liberation Sans, sans-serif" font-size="3.6" fill="#666">2</text>
<line x1="169.06" y1="57.36" x2="167.16" y2="53.84" stroke="#666" stroke-width="0.6"/>
<text x="165.97" y="51.64" transform="rotate(331.62 165.97 51.64)" text-anchor="middle" font-family="Liberation Sans, sans-serif" font-size="3.6" fill="#666">4</text>
<text x="191.20" y="17.70" transform="rotate(341.90 191.20 17.70)" text-anchor="middle" dominant-baseline="central" font-family="Liberation Serif, serif" font-weight="bold" font-size="7.2" stroke="#000" stroke-width="0.25">83</text>
<text x="92.20" y="81.10" transform="rotate(313.20 92.20 81.10)" text-anchor="middle" dominant-baseline="central" font-family="Liberation Serif, serif" font-weight="bold" font-size="7.2" stroke="#000" stroke-width="0.25">14</text>
<text x="35.70" y="189.00" transform="rotate(285.30 35.70 189.00)" text-anchor="middle" dominant-baseline="central" font-family="Liberation Serif, serif" font-weight="bold" font-size="7.2" stroke="#000" stroke-width="0.25">28</text>
<text x="31.90" y="286.30" transform="rotate(83.20 31.90 286.30)" text-anchor="middle" dominant-baseline="central" font-family="Liberation Serif, serif" font-weight="bold" font-size="7.2" stroke="#000" stroke-width="0.25">67</text>
<text x="72.00" y="388.50" transform="rotate(57.30 72.00 388.50)" text-anchor="middle" dominant-baseline="central" font-family="Liberation Serif, serif" font-weight="bold" font-size="7.2" stroke="#000" stroke-width="0.25">102</text>
<text x="125.50" y="443.60" transform="rotate(37.70 125.50 443.60)" text-anchor="middle" dominant-baseline="central" font-family="Liberation Serif, serif" font-weight="bold" font-size="7.2" stroke="#000" stroke-width="0.25">37</text>
<text x="179.30" y="477.00" transform="rotate(23.10 179.30 477.00)" text-anchor="middle" dominant-baseline="central" font-family="Liberation Serif, serif" font-weight="bold" font-size="7.2" stroke="#000" stroke-width="0.25">62</text>
<text x="225.50" y="490.20" transform="rotate(10.90 225.50 490.20)" text-anchor="middle" dominant-baseline="central" font-family="Liberation Serif, serif" font-weight="bold" font-size="7.2" stroke="#000" stroke-width="0.25">774</text>
<text x="242.50" y="492.00" transform="rotate(7.50 242.50 492.00)" text-anchor="middle" dominant-baseline="central" font-family="Liberation Serif, serif" font-weight="bold" font-size="7.2" stroke="#000" stroke-width="0.25">722</text>
<text x="266.20" y="492.70" transform="rotate(1.80 266.20 492.70)" text-anchor="middle" dominant-baseline="central" font-family="Liberation Serif, serif" font-weight="bold" font-size="7.2" stroke="#000" stroke-width="0.25">10</text>
<text x="327.90" y="12.30" transform="rotate(11.45 327.90 12.30)" text-anchor="middle" dominant-baseline="central" font-family="Liberation Serif, serif" font-weight="bold" font-size="7.2" stroke="#000" stroke-width="0.25">0</text>
<text x="436.90" y="66.30" transform="rotate(39.40 436.90 66.30)" text-anchor="middle" dominant-baseline="central" font-family="Liberation Serif, serif" font-weight="bold" font-size="7.2" stroke="#000" stroke-width="0.25">1</text>
<text x="517.90" y="248.50" transform="rotate(89.35 517.90 248.50)" text-anchor="middle" dominant-baseline="central" font-family="Liberation Serif, serif" font-weight="bold" font-size="7.2" stroke="#000" stroke-width="0.25">3</text>
<text x="491.40" y="356.90" transform="rotate(-64.90 491.40 356.90)" text-anchor="middle" dominant-baseline="central" font-family="Liberation Serif, serif" font-weight="bold" font-size="7.2" stroke="#000" stroke-width="0.25">9</text>
<text x="442.80" y="428.10" transform="rotate(-40.15 442.80 428.10)" text-anchor="middle" dominant-baseline="central" font-family="Liberation Serif, serif" font-weight="bold" font-size="7.2" stroke="#000" stroke-width="0.25">2</text>
<text x="363.50" y="478.00" transform="rotate(-19.10 363.50 478.00)" text-anchor="middle" dominant-baseline="central" font-family="Liberation Serif, serif" font-weight="bold" font-size="7.2" stroke="#000" stroke-width="0.25">11</text>
<text x="495.40" y="150.70" transform="rotate(65.80 495.40 150.70)" text-anchor="middle" dominant-baseline="central" font-family="Liberation Serif, serif" font-weight="bold" font-size="7.2" stroke="#000" stroke-width="0.25">4</text>
<defs>
<path id="lp" d="M 271.80 490.50 A 253.9 253.9 0 0 1 271.80 -17.30"/>
<path id="rp" d="M 297.10 23.20 A 230.3 230.3 0 0 1 297.10 483.80"/>
</defs>
<text font-family="Liberation Serif, serif" font-style="italic" font-size="23.8" fill="#000" stroke="#000" stroke-width="0.45"><textPath href="#lp" startOffset="264.59" textLength="248.75" lengthAdjust="spacing">Cladobotryum protrusum</textPath></text>
<text font-family="Liberation Serif, serif" font-style="italic" font-size="23.8" fill="#000" stroke="#000" stroke-width="0.45"><textPath href="#rp" startOffset="217.15" textLength="255.36" lengthAdjust="spacing">Cladobotryum dendroides</textPath></text>
</svg>
</body></html>
